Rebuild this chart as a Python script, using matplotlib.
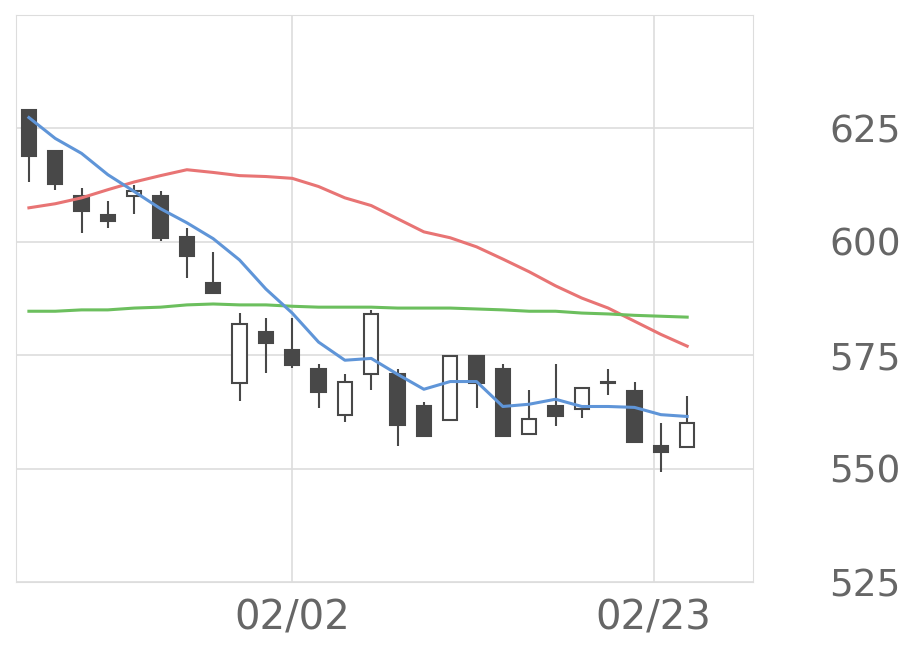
import matplotlib
matplotlib.use("Agg")
import matplotlib.pyplot as plt
import numpy as np

# daily OHLC
OPEN = [629.0, 620.1, 610.2, 606.0, 610.0, 610.2, 601.1, 590.9, 568.8, 580.1, 576.1, 571.9, 561.9,
        570.8, 570.8, 563.7, 560.8, 574.8, 571.9, 557.7, 563.7, 563.1, 569.0, 567.1, 554.9, 554.8]
HIGH = [629.0, 620.1, 611.9, 609.1, 612.6, 611.3, 603.1, 597.8, 584.3, 583.2, 583.2, 573.0, 570.8,
        585.0, 571.9, 564.8, 574.8, 574.8, 573.0, 567.3, 573.0, 567.7, 571.9, 569.0, 560.1, 566.0]
LOW = [613.3, 611.5, 602.0, 603.1, 606.2, 600.2, 592.0, 588.7, 565.0, 571.0, 572.1, 563.3, 560.2,
       567.3, 555.1, 557.1, 560.8, 563.3, 557.1, 557.4, 559.3, 561.1, 566.2, 555.8, 549.2, 554.8]
CLOSE = [619.0, 612.8, 606.9, 604.6, 611.1, 600.9, 596.9, 588.7, 581.9, 577.7, 572.8, 566.8, 569.0,
         584.1, 559.7, 557.1, 574.8, 568.8, 557.1, 560.9, 561.7, 567.7, 568.8, 555.8, 553.6, 560.0]
MA5 = [627.4, 622.8, 619.5, 614.8, 611.1, 607.3, 604.2, 600.7, 596.0, 589.6, 584.3, 577.9, 573.9,
       574.3, 570.8, 567.5, 569.2, 569.2, 563.7, 564.2, 565.3, 563.7, 563.7, 563.5, 561.9, 561.5]
MA25 = [607.5, 608.4, 609.7, 611.5, 613.2, 614.6, 615.9, 615.3, 614.6, 614.4, 614.0, 612.2, 609.7,
        608.0, 605.1, 602.2, 600.9, 598.9, 596.2, 593.4, 590.3, 587.6, 585.4, 582.5, 579.6, 577.0]
MA75 = [584.7, 584.7, 585.0, 585.0, 585.4, 585.6, 586.1, 586.3, 586.1, 586.1, 585.8, 585.6, 585.6,
        585.6, 585.4, 585.4, 585.4, 585.2, 585.0, 584.7, 584.7, 584.3, 584.1, 583.8, 583.6, 583.4]
XTICKS = [10, 23.73]
XLABELS = ["02/02", "02/23"]
YTICKS = [525, 550, 575, 600, 625]

DARK = "#484848"
fig = plt.figure(figsize=(9.2, 6.69), dpi=100)
ax = fig.add_axes([16 / 920, 0.13, 737 / 920, 0.8475])

x = np.arange(len(OPEN))
for i in x:
    o, h, l, c = OPEN[i], HIGH[i], LOW[i], CLOSE[i]
    ax.vlines(i, l, h, color=DARK, lw=1.5, zorder=2)
    lo, hi = min(o, c), max(o, c)
    up = c >= o
    ax.bar(i, max(hi - lo, 0.3), bottom=lo, width=0.55,
           color="white" if up else DARK, edgecolor=DARK, lw=1.5, zorder=3)

ax.plot(x, MA25, color="#e87474", lw=2.2, zorder=4)
ax.plot(x, MA75, color="#6cbf5e", lw=2.2, zorder=4)
ax.plot(x, MA5, color="#5f95d8", lw=2.2, zorder=5)

ax.set_xlim(-0.49, 27.5)
ax.set_ylim(525, 650)
ax.set_xticks(XTICKS)
ax.set_xticklabels(XLABELS)
ax.set_yticks(YTICKS)
ax.yaxis.tick_right()
ax.tick_params(axis="y", length=0, labelsize=27, colors="#666666", pad=55)
ax.tick_params(axis="x", length=0, labelsize=29, colors="#666666", pad=12)
ax.grid(True, color="#dddddd", lw=1.2)
ax.set_axisbelow(True)
for s in ax.spines.values():
    s.set_color("#dddddd")

fig.savefig("out.png", dpi=100)
